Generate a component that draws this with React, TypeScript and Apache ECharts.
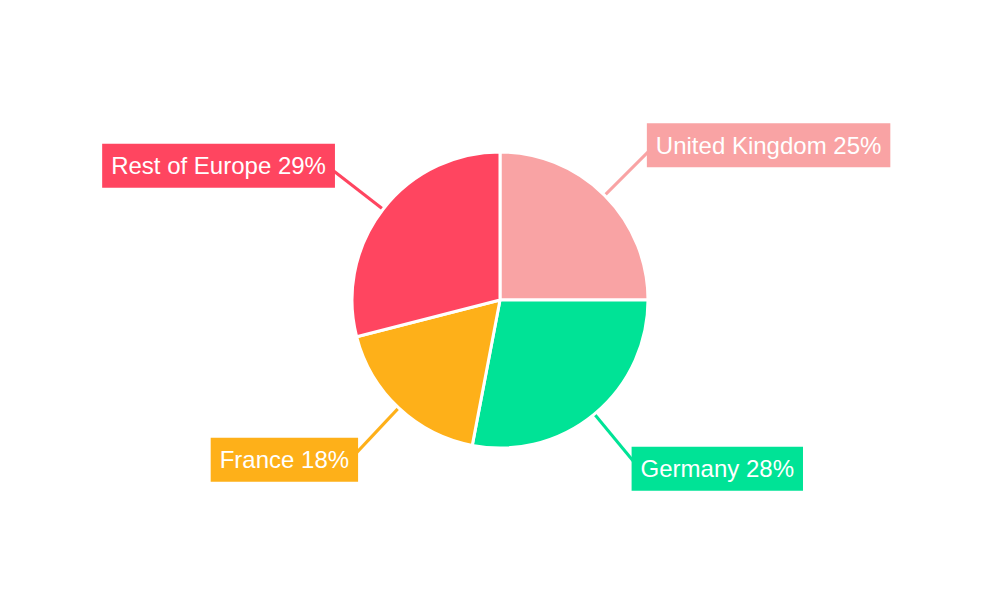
import React, { useEffect, useRef } from "react";
import * as echarts from "echarts";

const categories = ["United Kingdom", "Germany", "France", "Rest of Europe"];
const values = [25, 28, 18, 29];
const colors = ["#F9A3A4", "#00E396", "#FEB019", "#FF4560"];

export default function App() {
  const ref = useRef<HTMLDivElement>(null);
  useEffect(() => {
    document.body.style.margin = "0";
    if (!ref.current) return;
    const chart = echarts.init(ref.current, undefined, { renderer: "svg" });
    chart.setOption({
      animation: false,
      backgroundColor: "#ffffff",
      color: colors,
      series: [
        {
          type: "pie",
          center: ["50%", "50%"],
          radius: 148,
          startAngle: 90,
          clockwise: true,
          avoidLabelOverlap: false,
          itemStyle: { borderColor: "#ffffff", borderWidth: 3 },
          label: {
            show: true,
            position: "outside",
            formatter: "{b} {d}%",
            color: "#ffffff",
            fontSize: 24,
            fontFamily: "Liberation Sans, Arial, sans-serif",
            lineHeight: 25,
            padding: [9.5, 9],
            backgroundColor: "inherit",
            distanceToLabelLine: -8,
          },
          labelLine: {
            show: true,
            length: 71,
            length2: 0,
            lineStyle: { width: 3 },
          },
          emphasis: { disabled: true },
          data: categories.map((name, i) => ({ name, value: values[i] })),
        },
      ],
    });
    return () => chart.dispose();
  }, []);
  return <div ref={ref} style={{ width: 1000, height: 600 }} />;
}
